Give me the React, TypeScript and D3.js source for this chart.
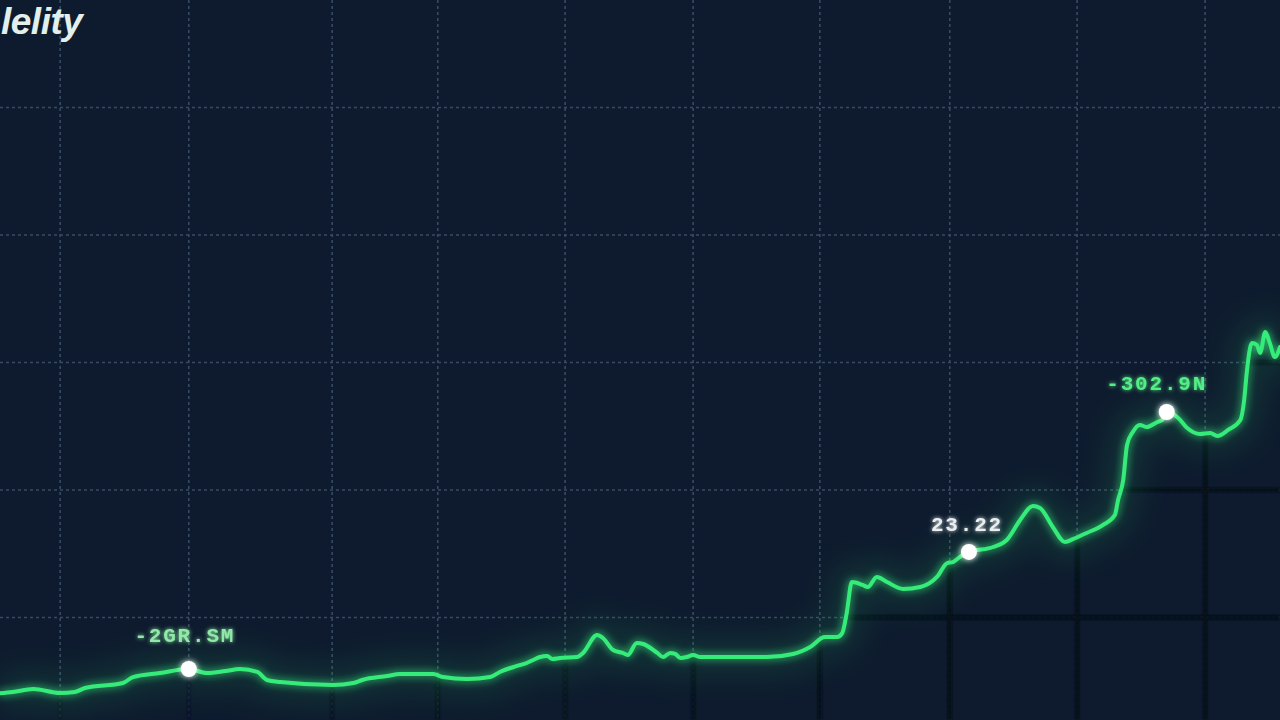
import React from "react";
import * as d3 from "d3";

// ---- data (x in weeks, y in index value) ----
const weeks = [
  0, 2.0, 5.2, 9.4, 11.7, 13.3, 19.2, 20.8, 25.0, 29.5, 32.3, 35.2, 37.5, 40.2, 41.7, 43.8,
  52.0, 55.2, 56.6, 60.5, 62.5, 67.7, 69.2, 73.0, 76.6, 78.1, 80.8, 82.3, 83.3, 84.4, 85.5,
  86.3, 87.5, 90.2, 91.1, 93.3, 94.2, 95.8, 97.3, 98.1, 99.5, 100.5, 102.7, 103.6, 104.7,
  105.5, 106.3, 107.3, 108.3, 109.4, 114.5, 119.8, 123.9, 126.6, 128.9, 130.8, 131.6, 132.3,
  133.1, 134.8, 135.6, 137.0, 138.6, 141.1, 143.8, 146.4, 148.0, 148.9, 150.0, 151.4, 155.2,
  157.3, 159.4, 161.4, 162.5, 164.5, 166.4, 167.7, 169.8, 172.3, 174.2, 174.7, 175.5, 176.1,
  177.0, 178.1, 179.2, 180.8, 181.6, 182.3, 184.1, 185.5, 187.5, 189.1, 190.2, 191.9, 193.8,
  194.4, 194.8, 195.6, 196.4, 196.9, 197.7, 198.4, 199.2, 200.0,
];
const values = [
  40.5, 41.6, 43.9, 40.8, 41.6, 44.7, 48.6, 53.3, 56.5, 59.6, 56.5, 58.0, 59.6, 57.3, 51.0, 49.4,
  47.1, 48.6, 51.0, 54.1, 55.7, 55.7, 53.3, 51.8, 53.3, 57.3, 62.0, 64.3, 66.7, 69.0, 69.8,
  67.5, 68.2, 69.0, 72.2, 86.3, 83.9, 74.5, 72.2, 70.6, 80.0, 79.2, 72.2, 69.0, 72.2,
  71.4, 68.2, 69.0, 70.6, 69.0, 69.0, 69.0, 71.4, 76.9, 84.7, 84.7, 87.8, 103.5,
  127.8, 125.5, 123.9, 131.8, 127.8, 122.4, 123.9, 131.8, 142.7, 143.5, 147.5, 151.4, 155.3,
  160.8, 176.5, 187.5, 185.9, 171.0, 159.2, 161.6, 166.3, 172.5, 180.4, 192.2, 207.8, 235.3,
  245.5, 251.0, 249.4, 253.3, 254.9, 261.2, 256.5, 248.6, 243.9, 244.7, 242.4, 247.1, 254.9,
  270.6, 291.8, 315.3, 313.7, 307.5, 323.9, 315.3, 304.3, 312.2,
];

const markerWeeks = [29.5, 151.4, 182.3];
const markerValues = [59.6, 151.4, 261.2];
const markerLabels = ["-2GR.SM", "23.22", "-302.9N"];
const markerColors = ["#8eeaa6", "#e9eef0", "#52ef86"];
const markerLabelShift = [-4, -2, -10];
const markerLabelLift = [27, 21, 22];

const xGridWeeks = [9.4, 29.5, 51.9, 68.4, 88.3, 108.3, 128.1, 148.4, 168.3, 188.3];
const yGridValues = [100, 200, 300, 400, 500];

const brand = "lelity";

const W = 1280;
const H = 720;

export default function App() {
  const x = d3.scaleLinear().domain([0, 200]).range([0, W]);
  const y = d3.scaleLinear().domain([0, 500]).range([745, 107.5]);

  const pts: [number, number][] = weeks.map((w, i) => [w, values[i]]);

  const line = d3
    .line<[number, number]>()
    .x((d) => x(d[0]))
    .y((d) => y(d[1]))
    .curve(d3.curveMonotoneX);

  const areaBelow = d3
    .area<[number, number]>()
    .x((d) => x(d[0]))
    .y0(y(-20))
    .y1((d) => y(d[1]))
    .curve(d3.curveMonotoneX);

  const areaAbove = d3
    .area<[number, number]>()
    .x((d) => x(d[0]))
    .y0(y(620))
    .y1((d) => y(d[1]))
    .curve(d3.curveMonotoneX);

  const linePath = line(pts) || "";

  const gridLines = (stroke: string, sw: number, dash?: string, opacity = 1) => (
    <g stroke={stroke} strokeWidth={sw} strokeDasharray={dash} opacity={opacity}>
      {xGridWeeks.map((w) => (
        <line key={"x" + w} x1={x(w)} x2={x(w)} y1={0} y2={H} />
      ))}
      {yGridValues.map((v) => (
        <line key={"y" + v} x1={0} x2={W} y1={y(v)} y2={y(v)} />
      ))}
    </g>
  );

  return (
    <svg
      width={W}
      height={H}
      viewBox={`0 0 ${W} ${H}`}
      style={{ position: "absolute", left: 0, top: 0, display: "block" }}
    >
      <defs>
        <clipPath id="below">
          <path d={areaBelow(pts) || ""} />
        </clipPath>
        <clipPath id="above">
          <path d={areaAbove(pts) || ""} />
        </clipPath>
        <linearGradient id="fadeDark" gradientUnits="userSpaceOnUse" x1={0} y1={0} x2={W} y2={0}>
          <stop offset="0" stopColor="#070d17" stopOpacity={0.15} />
          <stop offset="0.3" stopColor="#070d17" stopOpacity={0.55} />
          <stop offset="0.6" stopColor="#070d17" stopOpacity={0.95} />
          <stop offset="1" stopColor="#070d17" stopOpacity={0.95} />
        </linearGradient>
        <filter id="glow" x="-10%" y="-50%" width="120%" height="200%">
          <feGaussianBlur in="SourceGraphic" stdDeviation="4" result="b" />
          <feMerge>
            <feMergeNode in="b" />
            <feMergeNode in="SourceGraphic" />
          </feMerge>
        </filter>
        <filter id="haze" x="-10%" y="-50%" width="120%" height="200%">
          <feGaussianBlur stdDeviation="14" />
        </filter>
        <filter id="soft" x="-10%" y="-10%" width="120%" height="120%">
          <feGaussianBlur stdDeviation="1.2" />
        </filter>
        <filter id="dotglow" x="-100%" y="-100%" width="300%" height="300%">
          <feGaussianBlur in="SourceGraphic" stdDeviation="3" result="b" />
          <feMerge>
            <feMergeNode in="b" />
            <feMergeNode in="SourceGraphic" />
          </feMerge>
        </filter>
        <filter id="textglow" x="-20%" y="-50%" width="140%" height="200%">
          <feGaussianBlur in="SourceGraphic" stdDeviation="2" result="b" />
          <feMerge>
            <feMergeNode in="b" />
            <feMergeNode in="SourceGraphic" />
          </feMerge>
        </filter>
      </defs>

      <rect x={0} y={0} width={W} height={H} fill="#0e1b2e" />

      {/* grid above curve: light dotted */}
      <g clipPath="url(#above)">{gridLines("#3d5068", 1.6, "3 3", 0.9)}</g>
      {/* grid below curve: faint dotted + dark shadow lines */}
      <g clipPath="url(#below)">{gridLines("#3d5068", 1.4, "3 3", 0.5)}</g>
      <g clipPath="url(#below)">
        <g filter="url(#soft)">{gridLines("url(#fadeDark)", 4, undefined, 1)}</g>
      </g>

      {/* haze */}
      <path
        d={linePath}
        fill="none"
        stroke="#2fe06f"
        strokeWidth={40}
        opacity={0.1}
        filter="url(#haze)"
      />
      {/* main line */}
      <path
        d={linePath}
        fill="none"
        stroke="#36ec7a"
        strokeWidth={4}
        strokeLinejoin="round"
        strokeLinecap="round"
        filter="url(#glow)"
      />

      {markerWeeks.map((w, i) => (
        <g key={"m" + i}>
          <circle
            cx={x(w)}
            cy={y(markerValues[i])}
            r={8}
            fill="#ffffff"
            filter="url(#dotglow)"
          />
          <text
            x={x(w) + markerLabelShift[i]}
            y={y(markerValues[i]) - markerLabelLift[i]}
            textAnchor="middle"
            fill={markerColors[i]}
            fontFamily="'Liberation Mono', 'DejaVu Sans Mono', monospace"
            fontWeight="bold"
            fontSize={21}
            letterSpacing={1.8}
            filter="url(#textglow)"
          >
            {markerLabels[i]}
          </text>
        </g>
      ))}

      <text
        x={1}
        y={34}
        fill="#e2efeb"
        fontFamily="'Liberation Sans', Arial, sans-serif"
        fontStyle="italic"
        fontWeight="bold"
        fontSize={37}
        letterSpacing={-0.5}
      >
        {brand}
      </text>
    </svg>
  );
}
